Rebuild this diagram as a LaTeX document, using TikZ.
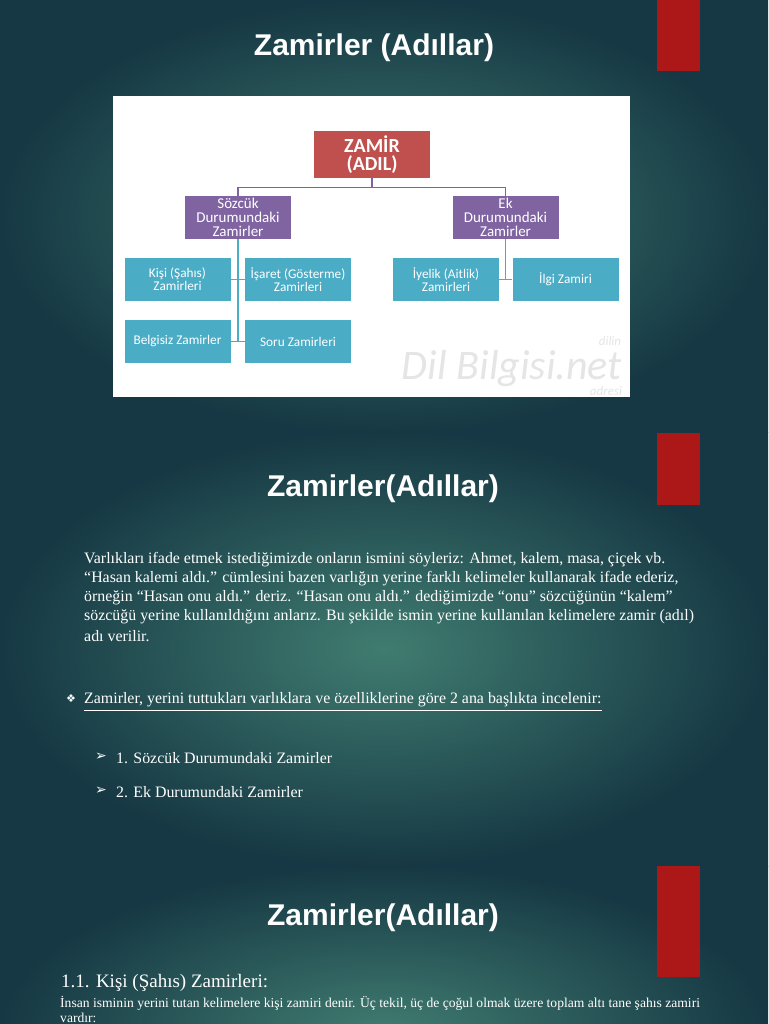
\documentclass[tikz,border=0pt]{standalone}
\usepackage{fontspec}
\usetikzlibrary{calc}
\setmainfont{Liberation Serif}
\newfontfamily\hfont{Liberation Sans}
\newfontfamily\dfont{Carlito}
\newfontfamily\symfont{DejaVu Sans}
\definecolor{bgin}{RGB}{64,124,112}
\definecolor{bgout}{RGB}{22,56,68}
\definecolor{barred}{RGB}{172,24,24}
\definecolor{zred}{RGB}{192,80,77}
\definecolor{zpurple}{RGB}{128,100,162}
\definecolor{zblue}{RGB}{75,172,198}
\tikzset{
 ttl/.style={font=\hfont\bfseries\fontsize{30}{34}\selectfont, text=white},
 bx/.style={draw=none, minimum width=106pt, minimum height=43pt, inner sep=1pt, align=center, text=white, font=\dfont\fontsize{13.3}{13}\selectfont},
 redbx/.style={bx, fill=zred, minimum width=116pt, minimum height=47pt, font=\dfont\bfseries\fontsize{20}{18}\selectfont},
 purbx/.style={bx, fill=zpurple, font=\dfont\fontsize{15}{14}\selectfont},
 blubx/.style={bx, fill=zblue},
 para/.style={anchor=west, text=white, inner sep=0pt, font=\fontsize{15.9}{19}\selectfont},
 bar/.style={fill=barred, draw=none},
 wmk/.style={text=black!10, inner sep=0pt},
}
\begin{document}
\begin{tikzpicture}[x=1pt,y=-1pt]
\useasboundingbox (0,0) rectangle (768,1024);
% backgrounds
\shade[inner color=bgin, outer color=bgout] (0,0) rectangle (768,432);
\shade[inner color=bgin, outer color=bgout] (0,432) rectangle (768,866);
\shade[inner color=bgin, outer color=bgout] (0,866) rectangle (768,1200);
\clip (0,0) rectangle (768,1024);
% bars
\fill[bar] (657,0) rectangle (700,71);
\fill[bar] (657,433) rectangle (700,505);
\fill[bar] (657,866) rectangle (700,977);
% slide 1
\node[ttl] (t1) at (374,48) {Zamirler (Adıllar)};
\fill[white] (113,96) rectangle (630,397);
\node[wmk, font=\dfont\itshape\fontsize{42}{42}\selectfont] (wm) at (512,369) {Dil Bilgisi.net};
\node[wmk, font=\dfont\itshape\fontsize{13}{13}\selectfont] (wm2) at (610,341) {dilin};
\node[wmk, font=\dfont\itshape\fontsize{13}{13}\selectfont] (wm3) at (606,391) {adresi};
\node[redbx] (zamir) at (372,154.5) {ZAMİR\\(ADIL)};
\node[purbx] (soz) at (238,217.5) {Sözcük\\Durumundaki\\Zamirler};
\node[purbx] (ek) at (505.5,217.5) {Ek\\Durumundaki\\Zamirler};
\node[blubx] (kisi) at (177.5,279.5) {Kişi (Şahıs)\\Zamirleri};
\node[blubx] (isaret) at (298,279.5) {İşaret (Gösterme)\\Zamirleri};
\node[blubx] (belg) at (177.5,341.5) {Belgisiz Zamirler};
\node[blubx] (soru) at (298,341.5) {Soru Zamirleri};
\node[blubx] (iyel) at (446,279.5) {İyelik (Aitlik)\\Zamirleri};
\node[blubx] (ilgi) at (565.5,279.5) {İlgi Zamiri};
\draw[zpurple, line width=1.2pt] (zamir.south) -- ++(0,9) -| (soz.north);
\draw[zpurple, line width=1.2pt] (zamir.south) -- ++(0,9) -| (ek.north);
\draw[zblue, line width=1.2pt] (soz.south) -- (soz.south |- belg.east);
\draw[zblue, line width=1.2pt] (kisi.east) -- (isaret.west);
\draw[zblue, line width=1.2pt] (belg.east) -- (soru.west);
\draw[zblue, line width=1.2pt] (ek.south) -- (ek.south |- iyel.east);
\draw[zblue, line width=1.2pt] (iyel.east) -- (ilgi.west);
% slide 2
\node[ttl] (t2) at (383,489) {Zamirler(Adıllar)};
\node[para] (p1) at (84,560) {Varlıkları ifade etmek istediğimizde onların ismini söyleriz: Ahmet, kalem, masa, çiçek vb.};
\node[para] (p2) at (84,579) {“Hasan kalemi aldı.” cümlesini bazen varlığın yerine farklı kelimeler kullanarak ifade ederiz,};
\node[para] (p3) at (84,598) {örneğin “Hasan onu aldı.” deriz. “Hasan onu aldı.” dediğimizde “onu” sözcüğünün “kalem”};
\node[para] (p4) at (84,617) {sözcüğü yerine kullanıldığını anlarız. Bu şekilde ismin yerine kullanılan kelimelere zamir (adıl)};
\node[para] (p5) at (84,636) {adı verilir.};
\node[text=white, font=\symfont\fontsize{11}{11}\selectfont] (b0) at (71,699) {❖};
\node[para] (l0) at (84,700) {Zamirler, yerini tuttukları varlıklara ve özelliklerine göre 2 ana başlıkta incelenir:};
\draw[white, line width=0.6pt] ($(l0.south west)+(0,2.5)$) -- ($(l0.south east)+(0,2.5)$);
\node[text=white, font=\symfont\fontsize{14}{14}\selectfont] (b1) at (101,757) {➢};
\node[para] (l1) at (116,758) {1. Sözcük Durumundaki Zamirler};
\node[text=white, font=\symfont\fontsize{14}{14}\selectfont] (b2) at (101,791) {➢};
\node[para] (l2) at (116,792) {2. Ek Durumundaki Zamirler};
% slide 3
\node[ttl] (t3) at (383,918) {Zamirler(Adıllar)};
\node[para, font=\fontsize{19}{20}\selectfont] (h3) at (61,983) {1.1. Kişi (Şahıs) Zamirleri:};
\node[para, font=\fontsize{13.6}{16}\selectfont] (q1) at (60,1003) {İnsan isminin yerini tutan kelimelere kişi zamiri denir. Üç tekil, üç de çoğul olmak üzere toplam altı tane şahıs zamiri};
\node[para, font=\fontsize{13.6}{16}\selectfont] (q2) at (60,1018) {vardır:};
\end{tikzpicture}
\end{document}
